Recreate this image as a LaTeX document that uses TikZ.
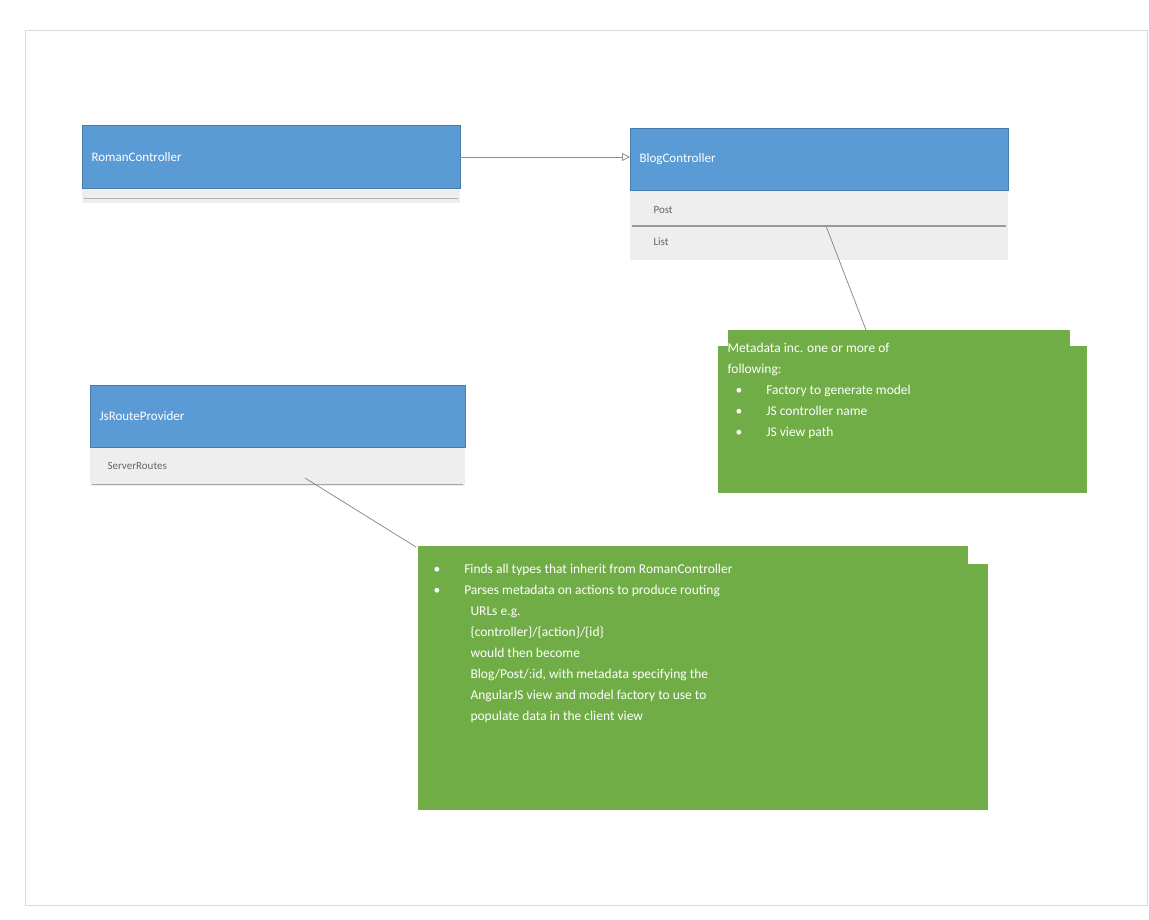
\documentclass[tikz,border=0pt]{standalone}
\usepackage{fontspec}
\setmainfont{Carlito}
\usetikzlibrary{arrows.meta}
\definecolor{hdr}{HTML}{5B9BD5}
\definecolor{grn}{HTML}{70AD47}
\definecolor{comp}{HTML}{EEEEEE}
\tikzset{
  hbox/.style={fill=hdr,draw=hdr!80!black,line width=0.6pt},
  cbox/.style={fill=comp,draw=none},
  htext/.style={anchor=west,text=white,font=\fontsize{13}{15}\selectfont},
  ctext/.style={anchor=west,text=black!60,font=\fontsize{11}{13}\selectfont},
  note/.style={fill=grn,draw=none},
  ntext/.style={anchor=north west,text=white,font=\fontsize{13.5}{21}\selectfont,align=left},
  conn/.style={draw=black!45,line width=0.8pt},
}
\begin{document}
\begin{tikzpicture}[x=1pt,y=-1pt]
\useasboundingbox (0,0) rectangle (1149,919);
\draw[black!15,line width=1pt] (25,30) rectangle (1147,905);
% RomanController
\fill[cbox] (82,188) rectangle (460,203);
\draw[black!30] (84,198) -- (458,198);
\draw[hbox] (82,125) rectangle (460,188);
\node[htext] (rc) at (88,157) {RomanController};
\coordinate (rcE) at (460,157);
% BlogController
\fill[cbox] (630,190) rectangle (1008,260);
\draw[black!40,line width=1.5pt] (632,226) -- (1006,226);
\draw[hbox] (630,128) rectangle (1008,190);
\node[htext] (bc) at (636,159) {BlogController};
\node[ctext] (post) at (650,210) {Post};
\node[ctext] (list) at (650,242) {List};
\coordinate (bcW) at (630,157);
\coordinate (bcP) at (826,226);
% JsRouteProvider
\fill[cbox] (90,447) rectangle (465,486);
\draw[black!35,line width=1pt] (92,484) -- (463,484);
\draw[hbox] (90,385) rectangle (465,447);
\node[htext] (jr) at (96,416) {JsRouteProvider};
\node[ctext] (sr) at (104,466) {ServerRoutes};
\coordinate (jrP) at (305,478);
% notes
\fill[note] (728,330) rectangle (1070,490);
\fill[note] (718,346) rectangle (1087,493);
\node[ntext] (n1) at (724,340) {Metadata inc. one or more of\\following:\\
\hspace*{8pt}•\hspace{24pt}Factory to generate model\\
\hspace*{8pt}•\hspace{24pt}JS controller name\\
\hspace*{8pt}•\hspace{24pt}JS view path};
\coordinate (n1T) at (866,330);
\fill[note] (418,546) rectangle (968,800);
\fill[note] (418,564) rectangle (988,810);
\node[ntext] (n2) at (424,561) {\hspace*{6pt}•\hspace{24pt}Finds all types that inherit from RomanController\\
\hspace*{6pt}•\hspace{24pt}Parses metadata on actions to produce routing\\
\hspace*{43pt}URLs e.g.\\
\hspace*{43pt}\{controller\}/\{action\}/\{id\}\\
\hspace*{43pt}would then become\\
\hspace*{43pt}Blog/Post/:id, with metadata specifying the\\
\hspace*{43pt}AngularJS view and model factory to use to\\
\hspace*{43pt}populate data in the client view};
\coordinate (n2T) at (416,547);
% connectors
\draw[conn,-{Triangle[open,length=8pt,width=8pt]}] (rcE) -- (bcW);
\draw[conn] (bcP) -- (n1T);
\draw[conn] (jrP) -- (n2T);
\end{tikzpicture}
\end{document}
